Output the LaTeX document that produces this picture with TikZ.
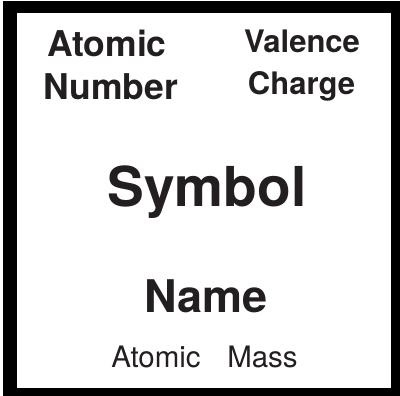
\documentclass[tikz,border=0pt]{standalone}
\usepackage{fontspec}
\setmainfont{TeX Gyre Heros}
\definecolor{ink}{RGB}{35,31,32}
\begin{document}
\begin{tikzpicture}[x=1pt,y=-1pt,
  lbl/.style={anchor=base,inner sep=0pt,text=ink,font=\bfseries},
  reg/.style={anchor=base,inner sep=0pt,text=ink}]
\fill[white] (0,0) rectangle (400,396);
\useasboundingbox (0,0) rectangle (400,396);
\fill[black] (3,1) rectangle (400,396);
\fill[white] (17,13) rectangle (391,388);
\node[lbl,font=\bfseries\fontsize{35.5}{35.5}\selectfont] (an1) at (107,57) {Atomic};
\node[lbl,font=\bfseries\fontsize{35.5}{35.5}\selectfont] (an2) at (111,100) {Number};
\node[lbl,font=\bfseries\fontsize{31}{31}\selectfont] (vc1) at (302,53) {Valence};
\node[lbl,font=\bfseries\fontsize{31}{31}\selectfont] (vc2) at (301.5,95) {Charge};
\node[lbl,font=\bfseries\fontsize{55}{55}\selectfont] (sym) at (207,207) {Symbol};
\node[lbl,font=\bfseries\fontsize{45}{45}\selectfont] (nm) at (206,313) {Name};
\node[reg,font=\fontsize{29.5}{29.5}\selectfont] (am1) at (156,367) {Atomic};
\node[reg,font=\fontsize{29.5}{29.5}\selectfont] (am2) at (262.5,367) {Mass};
\end{tikzpicture}
\end{document}
